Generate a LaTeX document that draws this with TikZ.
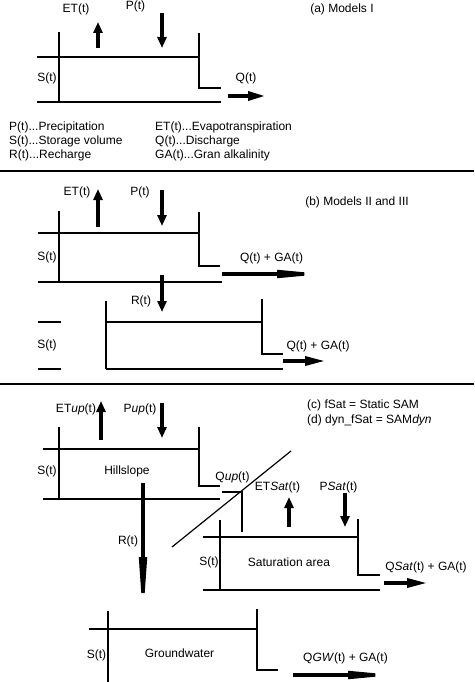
\documentclass[tikz,border=0pt]{standalone}
\usepackage{fontspec}
\setmainfont{Liberation Sans}
\usetikzlibrary{arrows.meta}

\tikzset{
  wall/.style={line width=1.2pt},
  divider/.style={line width=2.2pt},
  lbl/.style={inner sep=0pt, font=\fontsize{12}{14}\selectfont},
  flux/.style={line width=3.4pt, -{Triangle[length=#1,width=9pt]}},
  flux/.default=11pt,
  longflux/.style={line width=3.4pt, -{Triangle[length=#1,width=7.5pt]}},
}

\begin{document}
\begin{tikzpicture}[x=1pt,y=-1pt]
        \useasboundingbox (0,0) rectangle (474,682);

        % (a) Models I
        \draw[wall] (37,57) -- (199,57);
        \draw[wall] (59,32) -- (59,102);
        \draw[wall] (199,33) -- (199,88) -- (221,88);
        \draw[wall] (37,102) -- (221,102);
        \draw[flux] (98,48) -- (98,22);
        \draw[flux] (162,13) -- (162,48);
        \draw[flux=17pt] (228,96) -- (265,96);
        \node[lbl] (etA) at (76,9) {ET(t)};
        \node[lbl] (pA) at (135.5,6) {P(t)};
        \node[lbl] (sA) at (47,78) {S(t)};
        \node[lbl] (qA) at (246,78) {Q(t)};
        \node[lbl] (titleA) at (342,9) {(a) Models I};
        \node[lbl,anchor=west] (legP) at (9,127) {P(t)...Precipitation};
        \node[lbl,anchor=west] (legS) at (9,141) {S(t)...Storage volume};
        \node[lbl,anchor=west] (legR) at (9,155) {R(t)...Recharge};
        \node[lbl,anchor=west] (legET) at (155,127) {ET(t)...Evapotranspiration};
        \node[lbl,anchor=west] (legQ) at (155,141) {Q(t)...Discharge};
        \node[lbl,anchor=west] (legGA) at (155,155) {GA(t)...Gran alkalinity};

        \draw[divider] (0,171) -- (474,171);

        % (b) Models II and III
        \draw[wall] (38,233) -- (199,233);
        \draw[wall] (59,211) -- (59,282);
        \draw[wall] (199,212) -- (199,266) -- (220,266);
        \draw[wall] (38,282) -- (222,282);
        \draw[flux] (98,227) -- (98,189);
        \draw[flux] (162,190) -- (162,226);
        \draw[longflux=50pt] (222,274) -- (327,274);
        \draw[flux] (162,275) -- (162,312);
        \node[lbl] (etB) at (77,192) {ET(t)};
        \node[lbl] (pB) at (140,192) {P(t)};
        \node[lbl] (sB) at (47,257) {S(t)};
        \node[lbl] (qB) at (271.5,258) {Q(t) + GA(t)};
        \node[lbl] (titleB) at (357,202) {(b) Models II and III};
        \node[lbl] (rB) at (141,301) {R(t)};

        \draw[wall] (106,301) -- (106,369);
        \draw[wall] (106,322) -- (262,322);
        \draw[wall] (262,299) -- (262,354) -- (283,354);
        \draw[wall] (106,369) -- (283,369);
        \draw[wall] (38,322) -- (61,322);
        \draw[wall] (38,369) -- (61,369);
        \draw[flux=20pt] (283,361) -- (325,361);
        \node[lbl] (sB2) at (47,345) {S(t)};
        \node[lbl] (qB2) at (318,346) {Q(t) + GA(t)};

        \draw[divider] (0,384) -- (474,384);

        % (c), (d) hillslope, saturation area, groundwater
        \draw[wall] (43,449) -- (199,449);
        \draw[wall] (59,427) -- (59,499);
        \draw[wall] (199,427) -- (199,486) -- (220,486);
        \draw[wall] (43,499) -- (220,499);
        \draw[flux] (101,440) -- (101,401);
        \draw[flux] (162,403) -- (162,438);
        \draw[longflux=66pt] (143,483) -- (143,623);
        \node[lbl] (etC) at (76,409) {ET\textit{up}(t)};
        \node[lbl] (pC) at (140,409) {P\textit{up}(t)};
        \node[lbl] (sC) at (47,471) {S(t)};
        \node[lbl] (hill) at (127,471) {Hillslope};
        \node[lbl] (rC) at (128,541) {R(t)};
        \node[lbl,anchor=west] (titleC) at (307,405) {(c) fSat = Static SAM};
        \node[lbl,anchor=west] (titleD) at (307,420) {(d) dyn\_fSat = SAM\textit{dyn}};

        \draw[wall] (172,547) -- (291,451);
        \draw[wall] (222,492) -- (242,492) -- (242,532);
        \node[lbl] (qup) at (232.5,477) {Q\textit{up}(t)};

        \draw[wall] (203,537) -- (358,537);
        \draw[wall] (220,520) -- (220,590);
        \draw[wall] (358,519) -- (358,575) -- (380,575);
        \draw[wall] (203,590) -- (380,590);
        \draw[flux] (289,527) -- (289,497);
        \draw[flux] (345,493) -- (345,527);
        \draw[flux=20pt] (384,583) -- (427,583);
        \node[lbl] (etSat) at (277.5,487) {ET\textit{Sat}(t)};
        \node[lbl] (pSat) at (338.5,487) {P\textit{Sat}(t)};
        \node[lbl] (sSat) at (209,562) {S(t)};
        \node[lbl] (sat) at (289,562) {Saturation area};
        \node[lbl] (qSat) at (426,567) {Q\textit{Sat}(t) + GA(t)};

        \draw[wall] (89,629) -- (257,629);
        \draw[wall] (108,611) -- (108,682);
        \draw[wall] (257,609) -- (257,670) -- (278,670);
        \draw[longflux=50pt] (293,675) -- (398,675);
        \node[lbl] (sGW) at (96.5,655) {S(t)};
        \node[lbl] (gw) at (179.5,653) {Groundwater};
        \node[lbl] (qGW) at (345.5,658) {Q\textit{GW}(t) + GA(t)};
    \end{tikzpicture}
\end{document}
